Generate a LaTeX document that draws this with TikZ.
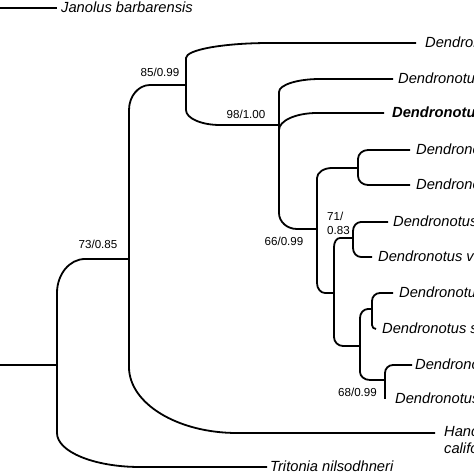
\documentclass[tikz,border=0pt]{standalone}
\usepackage{fontspec}
\setmainfont{Liberation Sans}
\usetikzlibrary{calc}
\tikzset{
  treeline/.style={line width=1.8pt, line join=round},
  taxon/.style={font=\fontsize{14.7}{17}\selectfont\itshape, inner sep=0pt, anchor=base west},
  newtaxon/.style={font=\fontsize{14.7}{17}\selectfont\bfseries\itshape, inner sep=0pt, anchor=base west},
  support/.style={font=\fontsize{11.6}{13}\selectfont, inner sep=0pt, anchor=base},
}
% parent, child, corner width, corner height
\newcommand\treebranch[4]{%
  \draw[treeline] let \p1=(#1), \p2=(#2), \n1={sign(\y2-\y1)} in
    (\x1,\y1) -- (\x1,\y2-\n1*#4pt)
    .. controls (\x1,\y2-\n1*0.448*#4pt) and (\x1+0.448*#3pt,\y2) .. (\x1+#3pt,\y2)
    -- (\x2,\y2);}
\begin{document}
\begin{tikzpicture}[x=1pt,y=1pt]
\useasboundingbox (0,0) rectangle (474,474);
% internal nodes
\coordinate (root0) at (0,109);
\coordinate (R) at (57,109);
\coordinate (N73) at (129,215);
\coordinate (N85) at (186,389);
\coordinate (N98) at (279,349);
\coordinate (N66) at (317,245);
\coordinate (NE) at (334,181);
\coordinate (NF) at (353,236);
\coordinate (ND) at (358,306);
\coordinate (NG) at (360,128);
\coordinate (NH) at (372,165);
\coordinate (NI) at (385,94);
% tips (line ends)
\coordinate (j0) at (0,466);
\coordinate (j1) at (57,466);
\coordinate (e1) at (416,431);
\coordinate (e2) at (393,395);
\coordinate (e3) at (384,361);
\coordinate (e4) at (410,324);
\coordinate (e5) at (410,289);
\coordinate (e6) at (388,252);
\coordinate (e7) at (372,217);
\coordinate (e8) at (393,181);
\coordinate (e9) at (376,145);
\coordinate (e10) at (412,109);
\coordinate (e11) at (385,75);
\coordinate (eh) at (435,41);
\coordinate (et) at (267,7);
% branches
\draw[treeline] (j0) -- (j1);
\draw[treeline] (root0) -- (R);
\treebranch{R}{N73}{28}{34}
\treebranch{R}{et}{83}{34}
\treebranch{N73}{N85}{21}{25}
\treebranch{N73}{eh}{108}{66}
\treebranch{N85}{e1}{84}{15}
\treebranch{N85}{N98}{34}{15}
\treebranch{N98}{e2}{41}{13}
\treebranch{N98}{e3}{38}{17}
\treebranch{N98}{N66}{18}{16}
\treebranch{N66}{ND}{15}{10}
\treebranch{N66}{NE}{8}{10}
\treebranch{NE}{NF}{6}{9}
\treebranch{NE}{NG}{9}{9}
\treebranch{ND}{e4}{10}{9}
\treebranch{ND}{e5}{10}{9}
\treebranch{NF}{e6}{8}{9}
\treebranch{NF}{e7}{8}{9}
\treebranch{NG}{NH}{8}{9}
\treebranch{NG}{NI}{10}{8}
\treebranch{NH}{e8}{8}{8}
\treebranch{NH}{e9}{4}{4}
\treebranch{NI}{e10}{8}{8}
\treebranch{NI}{e11}{0}{0}
% taxon labels (cut at the right edge, as printed)
\node[taxon] (tj) at (61,461) {Janolus barbarensis};
\node[taxon] (t1) at (425,426) {Dendron};
\node[taxon] (t2) at (398,390) {Dendronotu};
\node[newtaxon] (t3) at (392,356) {Dendronotu};
\node[taxon] (t4) at (416,319) {Dendrono};
\node[taxon] (t5) at (416,284) {Dendrono};
\node[taxon] (t6) at (393,247) {Dendronotus};
\node[taxon] (t7) at (378,212) {Dendronotus v};
\node[taxon] (t8) at (399,176) {Dendronotu};
\node[taxon] (t9) at (382,140) {Dendronotus s};
\node[taxon] (t10) at (415,104) {Dendrono};
\node[taxon] (t11) at (395,70) {Dendronotus};
\node[taxon] (th1) at (444,37) {Hanc};
\node[taxon] (th2) at (444,20) {califo};
\node[taxon] (tt) at (270,2) {Tritonia nilsodhneri};
% support values
\node[support] (s73) at (98,225) {73/0.85};
\node[support] (s85) at (160,397) {85/0.99};
\node[support] (s98) at (246,355) {98/1.00};
\node[support] (s66) at (284,228) {66/0.99};
\node[support, anchor=base west] (s71a) at (327,253) {71/};
\node[support, anchor=base west] (s71b) at (327,239) {0.83};
\node[support] (s68) at (357.5,77) {68/0.99};
\end{tikzpicture}
\end{document}
